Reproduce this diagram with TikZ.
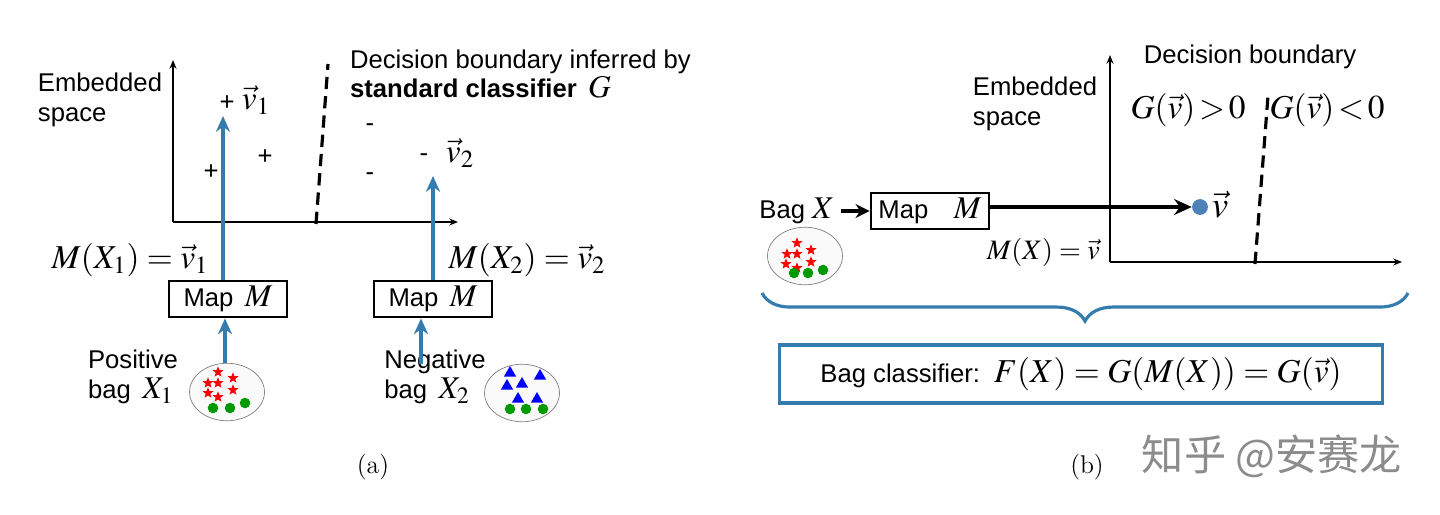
\documentclass[tikz,border=0pt]{standalone}
\usepackage{mathptmx}
\usepackage{fontspec}
\setmainfont{Liberation Sans}
\newfontfamily\cjk{Noto Sans CJK SC}
\usetikzlibrary{shapes.geometric,decorations.pathreplacing,arrows.meta}
\begin{document}
\begin{tikzpicture}[x=0.02cm,y=-0.02cm,font=\fontsize{14.6}{17}\selectfont]
  \tikzstyle{label}=[inner sep=1pt,align=left]
  \tikzstyle{mapbox}=[draw,line width=1.6pt,minimum width=118*0.02cm,minimum height=36*0.02cm,inner sep=2pt]
  \tikzstyle{bag}=[draw=black!50,ellipse,minimum width=1.5cm,minimum height=1.15cm,fill=black!2]
  \tikzstyle{blue arrow}=[draw=blue!40!cyan!60!black!80,line width=1.8pt,-{Stealth[length=9pt,width=8pt]}]
  \tikzstyle{axis}=[draw,line width=0.8pt,-{Stealth[length=5pt,width=4pt]}]
  \tikzstyle{boundary}=[draw,line width=1.8pt,dash pattern=on 7pt off 4pt]
  \tikzstyle{redstar}=[star,star points=5,star point ratio=2.3,fill=red,inner sep=0pt,minimum size=6.5pt]
  \tikzstyle{bluetri}=[regular polygon,regular polygon sides=3,fill=blue,inner sep=0pt,minimum size=8pt]
  \tikzstyle{greendot}=[circle,fill=green!60!black,inner sep=0pt,minimum size=6pt]
  \tikzstyle{bigmath}=[font=\fontsize{19}{21}\selectfont]
  \useasboundingbox (0,0) rectangle (1440,514);
  % ---------------- (a)
  \coordinate (aO) at (173,222);
  \coordinate (aY) at (173,60);
  \coordinate (aX) at (458,222);
  \draw[axis] (aO) -- (aY);
  \draw[axis] (aO) -- (aX);
  \coordinate (abot) at (316,224);
  \coordinate (atop) at (328,64);
  \draw[boundary] (abot) -- (atop);
  \node[label] (embA) at (100,100) {Embedded\\space};
  \node[label,anchor=west] (titleA) at (348,74) {Decision boundary inferred by\\\textbf{standard classifier} \,{\fontsize{18}{20}\selectfont$G$}};
  \node (p1) at (227,103) {+};
  \node (p2) at (211,172) {+};
  \node (p3) at (265,157) {+};
  \node (m1) at (370,128) {-};
  \node (m2) at (424,158) {-};
  \node (m3) at (370,177) {-};
  \node[bigmath] (v1) at (256,100) {$\vec{v}_1$};
  \node[bigmath] (v2) at (460,153) {$\vec{v}_2$};
  \node[mapbox] (mapA1) at (228,299) {Map\, {\fontsize{18}{20}\selectfont$M$}};
  \node[mapbox] (mapA2) at (433,299) {Map\, {\fontsize{18}{20}\selectfont$M$}};
  \node[bigmath] (eqA1) at (130,260) {$M(X_1)=\vec{v}_1$};
  \node[bigmath] (eqA2) at (527,260) {$M(X_2)=\vec{v}_2$};
  \coordinate (tipA1) at (223,116);
  \coordinate (tipA2) at (433,176);
  \draw[blue arrow] (mapA1.north -| tipA1) -- (tipA1);
  \draw[blue arrow] (mapA2.north) -- (tipA2);
  \node[label] (posA) at (133,377) {Positive\\bag \,{\fontsize{18}{20}\selectfont$X_1$}};
  \node[label] (negA) at (435,377) {Negative\\bag \,{\fontsize{18}{20}\selectfont$X_2$}};
  \node[bag] (bagA1) at (227,392) {};
  \node[bag] (bagA2) at (522,393) {};
  \draw[blue arrow] (bagA1.north -| mapA1) ++(-3,0) coordinate (bagtop1) -- (mapA1.south -| bagtop1);
  \draw[blue arrow] (bagA2.north -| mapA2) ++(-12,0) coordinate (bagtop2) -- (mapA2.south -| bagtop2);
  \foreach \x/\y in {218/372,208/383,218/383,233/378,208/393,218/397,233/390}
    \node[redstar] at (\x,\y) {};
  \foreach \x/\y in {213/408,230/408,245/403}
    \node[greendot] at (\x,\y) {};
  \foreach \x/\y in {510/373,540/376,507/386,522/384,518/399,537/399}
    \node[bluetri] at (\x,\y) {};
  \foreach \x/\y in {510/409,526/409,543/409}
    \node[greendot] at (\x,\y) {};
  \node (capA) at (373,467) {\fontfamily{lmr}\selectfont(a)};
  % ---------------- (b)
  \coordinate (bO) at (1110,262);
  \coordinate (bY) at (1110,55);
  \coordinate (bX) at (1402,262);
  \draw[axis] (bO) -- (bY);
  \draw[axis] (bO) -- (bX);
  \coordinate (bbot) at (1255,264);
  \coordinate (btop) at (1268,96);
  \draw[boundary] (bbot) -- (btop);
  \node[label] (embB) at (1035,104) {Embedded\\space};
  \node (titleB) at (1250,57) {Decision boundary};
  \node[bigmath] (gpos) at (1188,110) {$G(\vec{v})\,{>}\,0$};
  \node[bigmath] (gneg) at (1327,110) {$G(\vec{v})\,{<}\,0$};
  \node (bagX) at (797,211) {Bag {\fontsize{18}{20}\selectfont$X$}};
  \node[mapbox] (mapB) at (930,211) {Map\quad {\fontsize{18}{20}\selectfont$M$}};
  \draw[line width=1.8pt,-{Stealth[length=8pt,width=8pt]}] (bagX) -- (mapB);
  \node[circle,fill=blue!50!cyan!60!black!70,inner sep=0pt,minimum size=9pt] (vdot) at (1200,207) {};
  \node[font=\fontsize{21}{23}\selectfont] (vB) at (1220,205) {$\vec{v}$};
  \draw[line width=1.8pt,-{Stealth[length=10pt,width=9pt]}] (mapB.east |- vdot) -- (vdot.west);
  \node[anchor=east,font=\fontsize{16}{18}\selectfont] (eqB) at (1106,252) {$M(X)=\vec{v}$};
  \node[bag] (bagB) at (805,256) {};
  \foreach \x/\y in {797/243,787/254,797/254,811/250,786/264,797/268,811/262}
    \node[redstar] at (\x,\y) {};
  \foreach \x/\y in {794/273,808/273,823/270}
    \node[greendot] at (\x,\y) {};
  \coordinate (brL) at (762,293);
  \coordinate (brR) at (1408,293);
  \draw[draw=blue!40!cyan!60!black!80,line width=1.8pt,decorate,decoration={brace,amplitude=16pt}] (brR) -- (brL);
  \node[draw=blue!40!cyan!60!black!80,line width=1.8pt,minimum width=603*0.02cm,minimum height=58*0.02cm] (clsB) at (1081,374) {Bag classifier: \,{\fontsize{19}{21}\selectfont$F(X)=G(M(X))=G(\vec{v})$}};
  \node (capB) at (1087,467) {\fontfamily{lmr}\selectfont(b)};
  \node[text=black!45] (mark) at (1272,456) {\fontsize{24}{26}\selectfont\cjk 知乎 @安赛龙};
\end{tikzpicture}
\end{document}
